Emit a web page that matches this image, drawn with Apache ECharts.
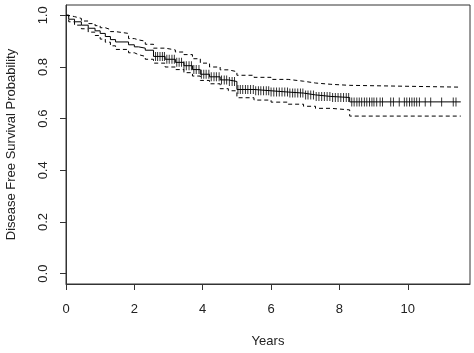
<!DOCTYPE html>
<html>
<head>
<meta charset="utf-8">
<script src="https://cdn.jsdelivr.net/npm/echarts@6/dist/echarts.min.js"></script>
<style>
html,body{margin:0;padding:0;background:#fff;}
#c{width:474px;height:353px;}
</style>
</head>
<body>
<div id="c"></div>
<script>
// Kaplan-Meier estimate (event times, survival, 95% CI)
var eventTimes = [0, 0.08, 0.25, 0.45, 0.65, 0.85, 1.0, 1.15, 1.3, 1.45, 1.83, 2.0, 2.12, 2.32, 2.56, 2.9, 3.2, 3.45, 3.7, 3.93, 4.2, 4.51, 4.75, 5.0, 5.5, 6.0, 6.5, 6.95, 7.3, 7.75, 8.3, 11.55];
var survival   = [1.0, 0.985, 0.975, 0.962, 0.950, 0.940, 0.930, 0.918, 0.906, 0.897, 0.886, 0.878, 0.873, 0.865, 0.841, 0.830, 0.818, 0.805, 0.790, 0.772, 0.762, 0.750, 0.744, 0.713, 0.708, 0.703, 0.699, 0.692, 0.686, 0.682, 0.665, 0.665];
var upperCI    = [1.0, 0.995, 0.988, 0.978, 0.968, 0.960, 0.952, 0.945, 0.937, 0.930, 0.910, 0.905, 0.900, 0.888, 0.873, 0.866, 0.858, 0.848, 0.832, 0.815, 0.800, 0.789, 0.782, 0.768, 0.760, 0.752, 0.745, 0.738, 0.733, 0.729, 0.722, 0.722];
var lowerCI    = [1.0, 0.975, 0.962, 0.948, 0.935, 0.922, 0.908, 0.896, 0.882, 0.868, 0.855, 0.848, 0.841, 0.830, 0.815, 0.800, 0.790, 0.778, 0.765, 0.748, 0.735, 0.716, 0.708, 0.681, 0.672, 0.664, 0.656, 0.648, 0.640, 0.634, 0.610, 0.610];
// censoring times (years)
var censorTimes = [2.62, 2.68, 2.75, 2.82, 2.88, 2.95, 3.02, 3.10, 3.17, 3.24, 3.31, 3.38, 3.45, 3.52, 3.60, 3.67, 3.74, 3.81, 3.89, 3.96, 4.03, 4.10, 4.18, 4.25, 4.33, 4.40, 4.48, 4.55, 4.63, 4.70, 4.78, 4.86, 4.93, 5.03, 5.10, 5.17, 5.25, 5.32, 5.40, 5.48, 5.55, 5.63, 5.70, 5.78, 5.86, 5.93, 6.00, 6.08, 6.16, 6.24, 6.32, 6.40, 6.48, 6.55, 6.63, 6.70, 6.78, 6.86, 6.93, 7.01, 7.08, 7.16, 7.24, 7.32, 7.40, 7.48, 7.56, 7.64, 7.72, 7.80, 7.88, 7.96, 8.04, 8.12, 8.20, 8.27, 8.36, 8.43, 8.51, 8.58, 8.65, 8.73, 8.80, 8.88, 8.95, 9.01, 9.09, 9.19, 9.26, 9.50, 9.58, 9.75, 9.90, 9.97, 10.05, 10.12, 10.19, 10.26, 10.34, 10.51, 10.67, 10.99, 11.33, 11.41];
var xTicks = [0, 2, 4, 6, 8, 10];
var yTicks = [0, 0.2, 0.4, 0.6, 0.8, 1.0];
var xTitle = 'Years';
var yTitle = 'Disease Free Survival Probability';

function zip(xs, ys) { return xs.map(function (x, i) { return [x, ys[i]]; }); }
function survAt(t) {
  var s = survival[0];
  for (var i = 0; i < eventTimes.length; i++) { if (eventTimes[i] <= t) s = survival[i]; }
  return s;
}
var censorData = censorTimes.map(function (t) { return [t, survAt(t)]; });

var font = 'Liberation Sans, Arial, sans-serif';
var txt = '#222';
var chart = echarts.init(document.getElementById('c'), null, {renderer: 'canvas'});
chart.setOption({
  animation: false,
  backgroundColor: '#fff',
  grid: {left: 66, right: 4, top: 5, bottom: 69, show: true, borderColor: '#333', borderWidth: 1,
    backgroundColor: 'transparent', containLabel: false, outerBoundsMode: 'none'},
  xAxis: {
    type: 'value', min: 0, max: 11.82,
    name: xTitle, nameLocation: 'middle', nameGap: 51,
    nameTextStyle: {fontFamily: font, fontSize: 13, color: txt},
    axisLine: {show: true, onZero: false, lineStyle: {color: '#333', width: 1}},
    axisTick: {show: true, length: 6, lineStyle: {color: '#333'}, customValues: xTicks},
    axisLabel: {customValues: xTicks, fontFamily: font, fontSize: 13, color: txt, margin: 19},
    splitLine: {show: false}
  },
  yAxis: {
    type: 'value', min: -0.04, max: 1.04,
    name: yTitle, nameLocation: 'middle', nameGap: 48,
    nameTextStyle: {fontFamily: font, fontSize: 13, color: txt},
    axisLine: {show: true, onZero: false, lineStyle: {color: '#333', width: 1}},
    axisTick: {show: true, length: 6, lineStyle: {color: '#333'}, customValues: yTicks},
    axisLabel: {customValues: yTicks, rotate: 90, fontFamily: font, fontSize: 13, color: txt, margin: 16,
      formatter: function (v) { return v.toFixed(1); }},
    splitLine: {show: false}
  },
  series: [
    {type: 'line', step: 'end', data: zip(eventTimes, survival), showSymbol: false, symbol: 'none',
      lineStyle: {color: '#000', width: 1}, z: 3},
    {type: 'line', step: 'end', data: zip(eventTimes, upperCI), showSymbol: false, symbol: 'none',
      lineStyle: {color: '#000', width: 1, type: [4, 3]}, z: 2},
    {type: 'line', step: 'end', data: zip(eventTimes, lowerCI), showSymbol: false, symbol: 'none',
      lineStyle: {color: '#000', width: 1, type: [4, 3]}, z: 2},
    {type: 'scatter', data: censorData, symbol: 'rect', symbolSize: [1, 9],
      itemStyle: {color: '#000'}, z: 4}
  ]
});
</script>
</body>
</html>
